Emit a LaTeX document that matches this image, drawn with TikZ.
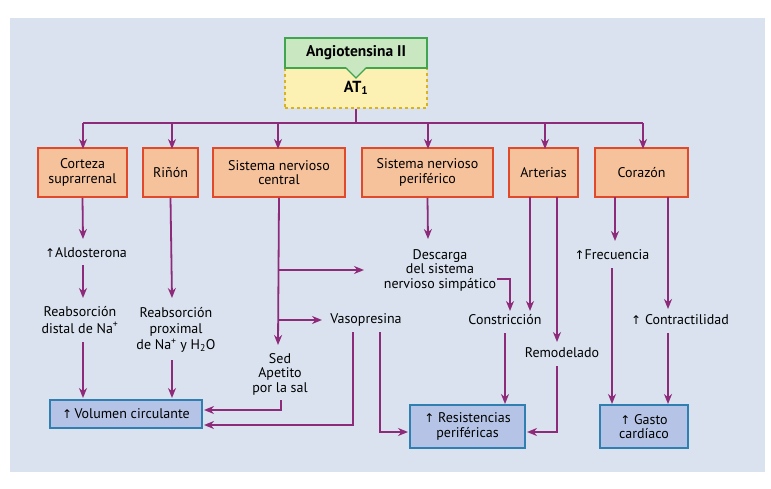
\documentclass[tikz,border=0pt]{standalone}
\usepackage{fontspec}
\setmainfont{PT Sans}
\newfontfamily\arrfont{DejaVu Sans}
\usetikzlibrary{arrows.meta}
\definecolor{bg}{HTML}{D9E2EE}
\definecolor{arr}{HTML}{8E2A7A}
\definecolor{ofill}{HTML}{F6C29C}
\definecolor{oline}{HTML}{E0492A}
\definecolor{bfill}{HTML}{B5C4E6}
\definecolor{bline}{HTML}{2F7FB0}
\definecolor{gfill}{HTML}{C9E8C2}
\definecolor{gline}{HTML}{3FA54F}
\definecolor{yfill}{HTML}{FCF1B3}
\definecolor{yline}{HTML}{D9B21F}
\tikzset{
 x=1pt,y=-1pt,
 font=\fontsize{14}{14.5}\selectfont,
 obox/.style={draw=oline,fill=ofill,line width=1.6pt,align=center,inner sep=0pt},
 bbox/.style={draw=bline,fill=bfill,line width=1.6pt,align=center,inner sep=0pt},
 lab/.style={align=center,inner sep=0.5pt},
 ar/.style={draw=arr,line width=1.8pt,-{Stealth[length=10pt,width=8pt]}},
 ln/.style={draw=arr,line width=1.8pt},
}
\begin{document}
\begin{tikzpicture}
\def\myup{{\arrfont\fontsize{12}{12}\selectfont ↑}}
\useasboundingbox (0,0) rectangle (771,489);
\fill[bg] (10,18) rectangle (765,472);
% top
\node[draw=yline,fill=yfill,dashed,line width=1.2pt,minimum width=142pt,minimum height=40pt,inner sep=0pt,font=\fontsize{16}{16}\selectfont] (at) at (356,88) {\textbf{AT\textsubscript{1}}};
\node[draw=gline,fill=gfill,line width=1.2pt,minimum width=142pt,minimum height=30pt,inner sep=0pt,font=\fontsize{15.5}{16}\selectfont] (ang) at (356,53) {\textbf{Angiotensina II}};
\fill[gfill] (346,67) -- (356,78) -- (366,67) -- cycle;
\draw[gline,line width=1.2pt] (346,68) -- (356,78) -- (366,68);
% row boxes
\node[obox,minimum width=89pt,minimum height=49pt] (cor) at (82.5,172.5) {Corteza\\suprarrenal};
\node[obox,minimum width=55pt,minimum height=49pt] (rin) at (170.5,172.5) {Riñón};
\node[obox,minimum width=132pt,minimum height=49pt] (snc) at (279,172.5) {Sistema nervioso\\central};
\node[obox,minimum width=131pt,minimum height=49pt] (snp) at (427.5,172.5) {Sistema nervioso\\periférico};
\node[obox,minimum width=69pt,minimum height=49pt] (art) at (543.5,172.5) {Arterias};
\node[obox,minimum width=93pt,minimum height=49pt] (crz) at (641.5,172.5) {Corazón};
% bus
\coordinate (bus) at (356,123);
\draw[ln] (at.south) -- (bus);
\draw[ln] (83,123) -- (643,123);
\foreach \x in {83,172,278,428,545,643}
  \draw[ar] (\x,123) -- (\x,149);
% bottom boxes
\node[bbox,minimum width=152pt,minimum height=28pt] (vol) at (126,414) {\myup\,Volumen circulante};
\node[bbox,minimum width=115pt,minimum height=43pt] (res) at (467.5,426.5) {\myup\ Resistencias\\periféricas};
\node[bbox,minimum width=88pt,minimum height=43pt] (gas) at (644,426.5) {\myup\ Gasto\\cardíaco};
% labels
\node[lab] (ald) at (86,253) {\myup Aldosterona};
\node[lab,font=\fontsize{14}{16.5}\selectfont] (rdis) at (80,320) {Reabsorción\\distal de Na\textsuperscript{+}};
\node[lab,font=\fontsize{14}{16}\selectfont] (rpro) at (176,330) {Reabsorción\\proximal\\de Na\textsuperscript{+} y H\textsubscript{2}O};
\node[lab] (sed) at (280,374) {Sed\\Apetito\\por la sal};
\node[lab] (vaso) at (366,320) {Vasopresina};
\node[lab] (desc) at (440,270) {Descarga\\del sistema\\nervioso simpático};
\node[lab] (cons) at (505,320) {Constricción};
\node[lab] (rem) at (562,353) {Remodelado};
\node[lab] (frec) at (612,255) {\myup Frecuencia};
\node[lab] (cont) at (680,320) {\myup\ Contractilidad};
% corteza chain
\draw[ar] (cor.south) -- (83,239);
\draw[ar] (83,265) -- (83,298);
\draw[ar] (83,342) -- (83,398);
% rinon
\draw[ar] (rin.south) -- (172,298);
\draw[ar] (172,360) -- (172,398);
% snc
\draw[ar] (snc.south) -- (278,345);
\draw[ar] (278,270) -- (364,270);
\draw[ar] (278,320) -- (322,320);
\draw[ar] (281,400) -- (281,410) -- (204,410);
\draw[ar] (353,332) -- (353,425) -- (204,425);
\draw[ar] (380,332) -- (380,432) -- (408,432);
% snp
\draw[ar] (snp.south) -- (428,239);
\draw[ar] (497,279) -- (510,279) -- (510,311);
% arterias
\draw[ar] (530,197) -- (530,311);
\draw[ar] (557,197) -- (557,342);
\draw[ar] (557,366) -- (557,432) -- (527,432);
\draw[ar] (505,333) -- (505,404);
% corazon
\draw[ar] (615,197) -- (615,241);
\draw[ar] (612,268) -- (612,404);
\draw[ar] (668,197) -- (668,309);
\draw[ar] (668,333) -- (668,404);
\end{tikzpicture}
\end{document}
